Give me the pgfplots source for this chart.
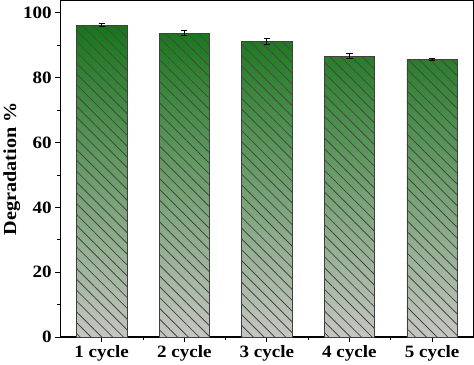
\documentclass[border=0pt]{standalone}
\usepackage{fontspec}
\setmainfont[FakeStretch=1.1]{Liberation Serif}
\usepackage{pgfplots}
\pgfplotsset{compat=1.18}
\usetikzlibrary{patterns.meta}
\definecolor{gtop}{RGB}{22,118,24}
\definecolor{gbot}{RGB}{198,198,194}
\pgfplotstableread{
x y e
1 96.2 0.4
2 93.7 0.8
3 91.2 0.8
4 86.6 0.8
5 85.7 0.3
}\data
\begin{document}
\begin{tikzpicture}
\begin{axis}[
  scale only axis, width=405pt, height=330pt,
  xmin=0.5, xmax=5.5, ymin=0, ymax=103.75,
  xtick={1,2,3,4,5},
  xticklabels={1 cycle,2 cycle,3 cycle,4 cycle,5 cycle},
  minor xtick={1.5,2.5,3.5,4.5},
  ytick={0,20,40,60,80,100},
  minor ytick={10,30,50,70,90},
  tick align=outside, xtick pos=bottom, ytick pos=left,
  major tick length=5pt, minor tick length=3pt,
  tick style={black, line width=0.9pt},
  axis line style={black, line width=1.3pt},
  /pgf/number format/assume math mode=true,
  ticklabel style={font=\bfseries\fontsize{17}{20}\selectfont},
  ylabel={Degradation \%},
  ylabel style={font=\bfseries\fontsize{18}{21}\selectfont},
  ylabel shift=-4pt,
  clip=false,
]
\addplot[ybar, bar width=0.61, draw=black!75, line width=0.6pt,
  top color=gtop, bottom color=gbot] table[x=x,y=y] {\data};
\addplot[ybar, bar width=0.61, draw=black!75, line width=0.6pt,
  pattern={Lines[angle=-45,distance=7.5pt,line width=0.8pt]}, pattern color=black!72,
  error bars/.cd, y dir=both, y explicit,
  error bar style={black, line width=0.8pt},
  error mark options={rotate=90, mark size=3pt, black, line width=0.8pt}]
  table[x=x,y=y,y error=e] {\data};
\end{axis}
\end{tikzpicture}
\end{document}
